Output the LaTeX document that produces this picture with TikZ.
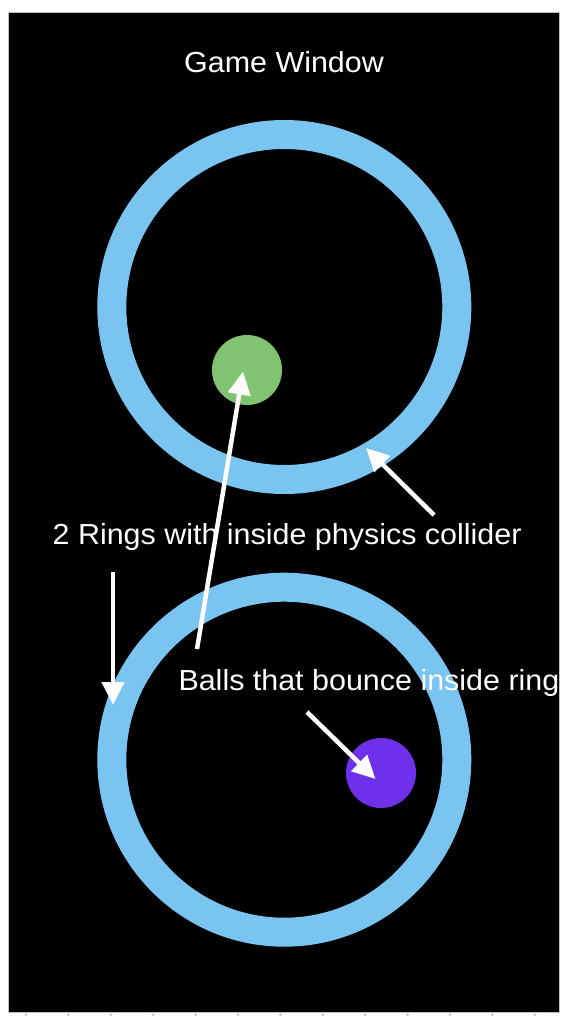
\documentclass[tikz,border=0pt]{standalone}
\usepackage{fontspec}
\setmainfont{Liberation Sans}
\newfontfamily\lblfont[FakeStretch=1.05]{Liberation Sans}
\usetikzlibrary{arrows.meta}
\definecolor{ringblue}{HTML}{79C4F1}
\definecolor{ballgreen}{HTML}{80C370}
\definecolor{ballpurple}{HTML}{6E30EB}
\tikzset{
  ring/.style={circle, draw=ringblue, line width=29pt, minimum size=345pt, inner sep=0pt},
  ball/.style={circle, minimum size=70pt, inner sep=0pt},
  lbl/.style={text=white, font=\lblfont\fontsize{29}{34}\selectfont, inner sep=0pt, anchor=base west},
  pointer/.style={draw=white, line width=4.5pt, -{Triangle[length=23pt,width=22pt]}}
}
\begin{document}
\begin{tikzpicture}[x=1pt,y=-1pt]
\useasboundingbox (0,0) rectangle (569,1024);
\fill[white] (0,0) rectangle (569,1024);
\begin{scope}
\clip (8.5,12) rectangle (559,1012);
\fill[black] (8.5,12) rectangle (559,1012);
\node[ring] (ringtop) at (284.3,307) {};
\node[ring] (ringbot) at (284.3,759.7) {};
\node[ball, fill=ballgreen] (green) at (247,370) {};
\node[ball, fill=ballpurple] (purple) at (381,773) {};
\node[lbl, anchor=base] (title) at (284,72.3) {Game Window};
\node[lbl] (ringlbl) at (52.5,544.3) {2 Rings with inside physics collider};
\node[lbl] (balllbl) at (178.3,690.7) {Balls that bounce inside ring};
\coordinate (a1s) at (197,649);
\coordinate (a1e) at (243,371.5);
\coordinate (a2s) at (434,515);
\coordinate (a2e) at (366,448);
\coordinate (a3s) at (113,572);
\coordinate (a3e) at (113,705);
\coordinate (a4s) at (307,712);
\coordinate (a4e) at (375.5,779);
\draw[pointer] (a1s) -- (a1e);
\draw[pointer] (a2s) -- (a2e);
\draw[pointer] (a3s) -- (a3e);
\draw[pointer] (a4s) -- (a4e);
\end{scope}
\draw[gray!50, line width=0.8pt] (8.5,12) rectangle (559,1012);
\foreach \i in {0,...,12}
  \fill[gray!45] (26+42.4*\i,1014.7) circle (1.5pt);
\end{tikzpicture}
\end{document}
